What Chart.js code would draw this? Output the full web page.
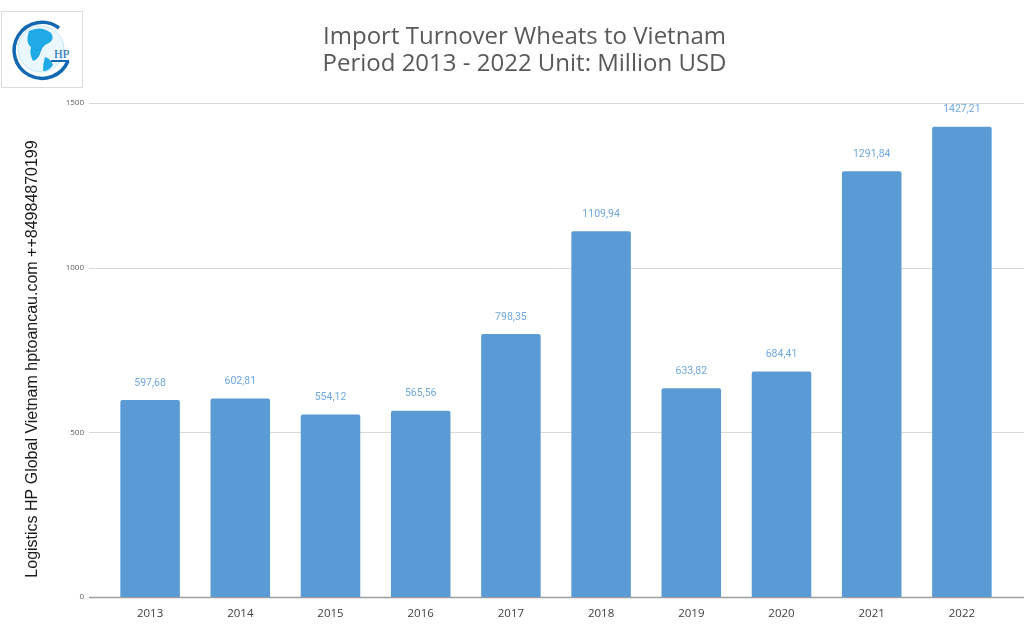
<!DOCTYPE html>
<html>
<head>
<meta charset="utf-8">
<script src="https://cdn.jsdelivr.net/npm/chart.js@4/dist/chart.umd.min.js"></script>
<style>
  html, body { margin: 0; padding: 0; background: #fff; }
  #wrap { position: relative; width: 1024px; height: 630px; }
  #logo { position: absolute; left: 1px; top: 11px; width: 82px; height: 77px; }
</style>
</head>
<body>
<div id="wrap">
  <canvas id="chart" width="1024" height="630"></canvas>
  <svg id="logo" viewBox="0 0 82 77">
    <rect x="0.5" y="0.5" width="81" height="76" fill="#fff" stroke="#dcdcdc"/>
    <circle cx="40" cy="38" r="23" fill="#eaf7fd" stroke="#9fd6f2" stroke-width="0.6"/>
    <path d="M28 20 q12 -6 22 2 q4 6 -2 10 q-6 2 -8 8 q-2 8 -8 10 q-4 -8 -2 -14 q-6 -4 -2 -16z" fill="#1fa9e6"/>
    <path d="M44 46 q6 2 8 8 q-4 6 -10 6 q0 -8 2 -14z" fill="#1fa9e6"/>
    <path d="M58 17 A28 28 0 1 0 67 50" fill="none" stroke="#1268b3" stroke-width="3.5"/>
    <line x1="50" y1="50" x2="68" y2="50" stroke="#1268b3" stroke-width="2"/>
    <text x="53" y="47" font-family="Liberation Serif" font-size="12" fill="#1268b3">HP</text>
  </svg>
</div>
<script>
/* Data */
const years = ['2013', '2014', '2015', '2016', '2017', '2018', '2019', '2020', '2021', '2022'];
const turnover = [597.68, 602.81, 554.12, 565.56, 798.35, 1109.94, 633.82, 684.41, 1291.84, 1427.21];
const titleLines = ['Import Turnover Wheats to Vietnam', 'Period 2013 - 2022 Unit: Million USD'];
const sideNote = 'Logistics HP Global Vietnam hptoancau.com ++84984870199';

/* Gridlines wider than the bar area */
const wideGrid = {
    id: 'wideGrid',
    beforeDatasetsDraw(chart) {
        const ctx = chart.ctx;
        const y = chart.scales.y;
        ctx.save();
        y.ticks.forEach(function(t) {
            const py = Math.round(y.getPixelForValue(t.value)) + 0.5;
            ctx.strokeStyle = t.value === 0 ? '#9e9e9e' : '#d9d9d9';
            ctx.lineWidth = t.value === 0 ? 1.5 : 1;
            ctx.beginPath();
            ctx.moveTo(89, py);
            ctx.lineTo(1024, py);
            ctx.stroke();
        });
        ctx.restore();
    }
};

/* Value labels + vertical note */
const extras = {
    id: 'extras',
    afterDatasetsDraw(chart) {
        const ctx = chart.ctx;
        const meta = chart.getDatasetMeta(0);
        ctx.save();
        ctx.font = '10.5px Roboto';
        ctx.fillStyle = '#6fa8e0';
        ctx.textAlign = 'center';
        ctx.textBaseline = 'middle';
        meta.data.forEach(function(bar, i) {
            ctx.fillText(turnover[i].toFixed(2).replace('.', ','), bar.x, bar.y - 17);
        });
        ctx.translate(33, 359);
        ctx.rotate(-Math.PI / 2);
        ctx.font = '16px "Liberation Sans"';
        ctx.fillStyle = '#1a1a1a';
        ctx.fillText(sideNote, 0, 0);
        ctx.restore();
    }
};

const ctx = document.getElementById('chart').getContext('2d');
const chart = new Chart(ctx, {
    type: 'bar',
    data: {
        labels: years,
        datasets: [{
            data: turnover,
            backgroundColor: '#5b9bd5',
            borderRadius: 2,
            borderSkipped: 'bottom',
            barPercentage: 0.66,
            categoryPercentage: 1
        }]
    },
    options: {
        responsive: false,
        animation: false,
        layout: {
            padding: { left: 42, right: 17, top: 0, bottom: 0 }
        },
        plugins: {
            legend: { display: false },
            tooltip: { enabled: false },
            title: {
                display: true,
                text: titleLines,
                color: '#595959',
                font: { family: 'Open Sans', size: 24, weight: 'normal', lineHeight: 1.12 },
                padding: { top: 24, bottom: 25 }
            }
        },
        scales: {
            x: {
                grid: { display: false },
                border: { display: false },
                ticks: { color: '#404040', font: { family: 'Open Sans', size: 11.5 }, padding: 2 },
                afterFit(s) { s.height = 33; }
            },
            y: {
                min: 0,
                max: 1500,
                grid: { display: false, drawTicks: false },
                border: { display: false },
                ticks: {
                    stepSize: 500,
                    color: '#595959',
                    font: { family: 'Open Sans', size: 8 },
                    padding: 21,
                    callback: function(v) { return String(v); }
                },
                afterFit(s) { s.width = 63; }
            }
        }
    },
    plugins: [wideGrid, extras]
});
</script>
</body>
</html>
